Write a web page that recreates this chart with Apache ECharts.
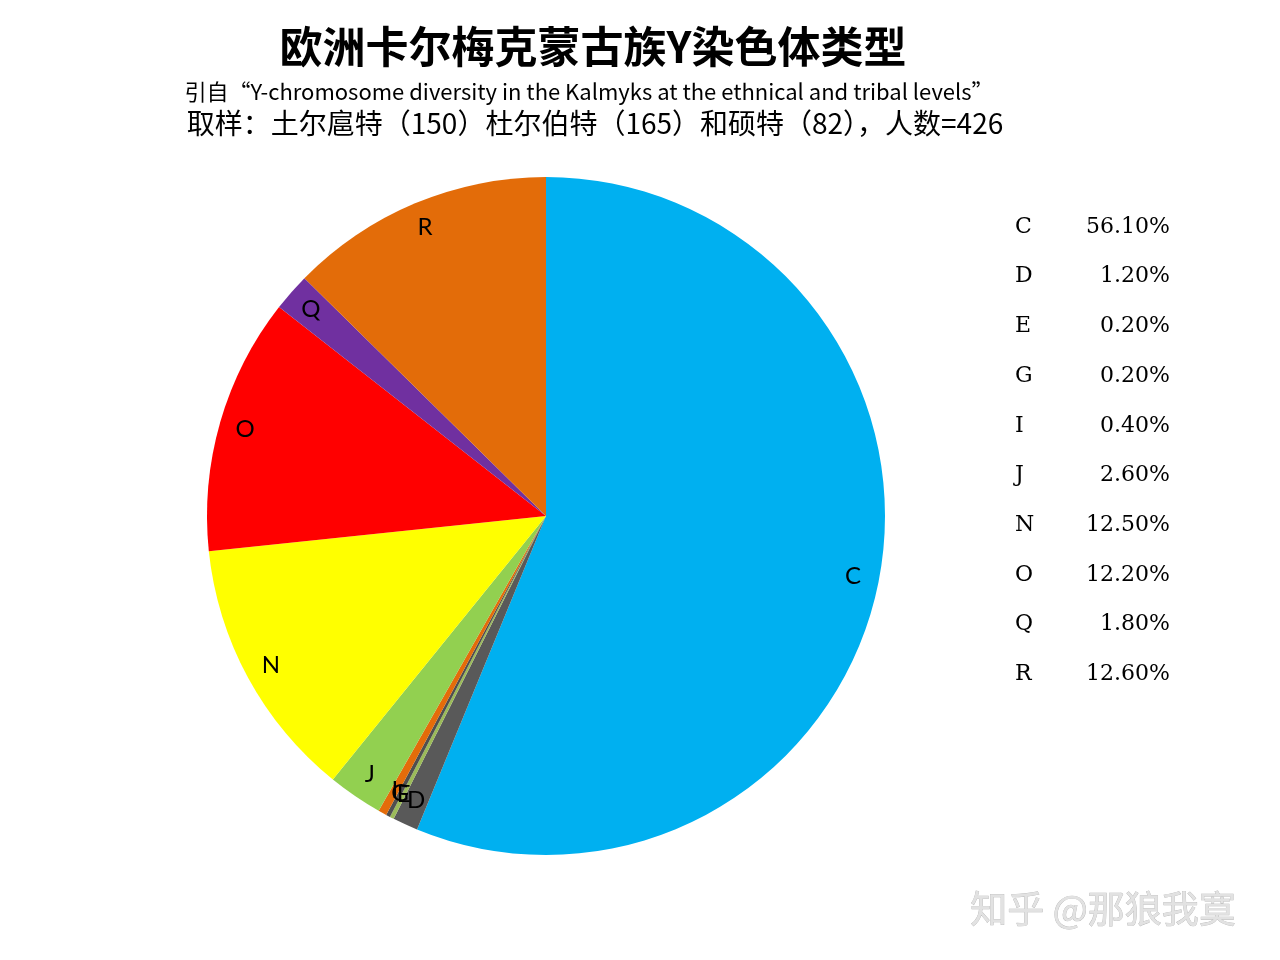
<!DOCTYPE html>
<html><head><meta charset="utf-8">
<script src="https://cdn.jsdelivr.net/npm/echarts@6/dist/echarts.min.js"></script>
<style>html,body{margin:0;padding:0;background:#fff}#c{width:1280px;height:960px}</style>
</head><body><div id="c"></div>
<script>
const categories = ['C','D','E','G','I','J','N','O','Q','R'];
const values = [56.1, 1.2, 0.2, 0.2, 0.4, 2.6, 12.5, 12.2, 1.8, 12.6];
const colors = ['#00B0F0','#595959','#9BBB59','#4F4F4F','#E46C0A','#92D050','#FFFF00','#FF0000','#7030A0','#E36C09'];
const titleText = '欧洲卡尔梅克蒙古族Y染色体类型';
const sub1 = '引自“Y-chromosome diversity in the Kalmyks at the ethnical and tribal levels”';
const sub2 = '取样：土尔扈特（150）杜尔伯特（165）和硕特（82），人数=426';

const data = categories.map((c,i)=>({name:c, value:values[i], itemStyle:{color:colors[i]}}));
const labelData = categories.map((c,i)=>({name:c, value:values[i]}));
const pctMap = {}; categories.forEach((c,i)=>pctMap[c]=values[i].toFixed(2)+'%');

const chart = echarts.init(document.getElementById('c'));
chart.setOption({
  animation:false,
  backgroundColor:'#fff',
  title:[
    {text:titleText,left:588,top:20,textAlign:'center',textStyle:{fontFamily:'Noto Sans CJK SC',fontWeight:'bold',fontSize:43,color:'#000'}},
    {text:sub1,left:584,top:76,textAlign:'center',textStyle:{fontFamily:'Noto Sans CJK SC',fontWeight:'normal',fontSize:22,color:'#000'}},
    {text:sub2,left:590,top:104,textAlign:'center',textStyle:{fontFamily:'Noto Sans CJK SC',fontWeight:'normal',fontSize:28,color:'#000'}},
  ],
  legend:{
    orient:'vertical', left:1005, top:211, icon:'none', itemWidth:0, itemHeight:10, itemGap:27.7,
    selectedMode:false,
    data:categories,
    formatter:(n)=>'{n|'+n+'}{v|'+pctMap[n]+'}',
    textStyle:{fontFamily:'DejaVu Serif', fontSize:22, color:'#000',
      rich:{n:{width:40,fontFamily:'DejaVu Serif',fontSize:22},v:{width:115,align:'right',fontFamily:'DejaVu Serif',fontSize:22}}}
  },
  series:[
    {type:'pie', center:[546,516], radius:[0,339], startAngle:90, clockwise:true,
     data:data, label:{show:false}, labelLine:{show:false}, itemStyle:{borderWidth:0}, emphasis:{disabled:true}, silent:true},
    {type:'pie', center:[546,516], radius:[281,339], startAngle:90, clockwise:true,
     avoidLabelOverlap:false, minShowLabelAngle:0,
     data:labelData, itemStyle:{color:'rgba(0,0,0,0)',borderWidth:0}, legendHoverLink:false,
     label:{show:true, position:'inside', formatter:'{b}', fontFamily:'Lato', fontSize:24, color:'#000', rotate:0},
     labelLayout:{hideOverlap:false},
     labelLine:{show:false}, emphasis:{disabled:true}, silent:true}
  ],
  graphic:[
    {type:'text', left:970, top:890, style:{text:'知乎 @那狼我寞', fontFamily:'Noto Sans CJK SC', fontSize:37, fill:'#e2e2e2', stroke:'#b5b5b5', lineWidth:0.7}}
  ]
});
</script></body></html>
